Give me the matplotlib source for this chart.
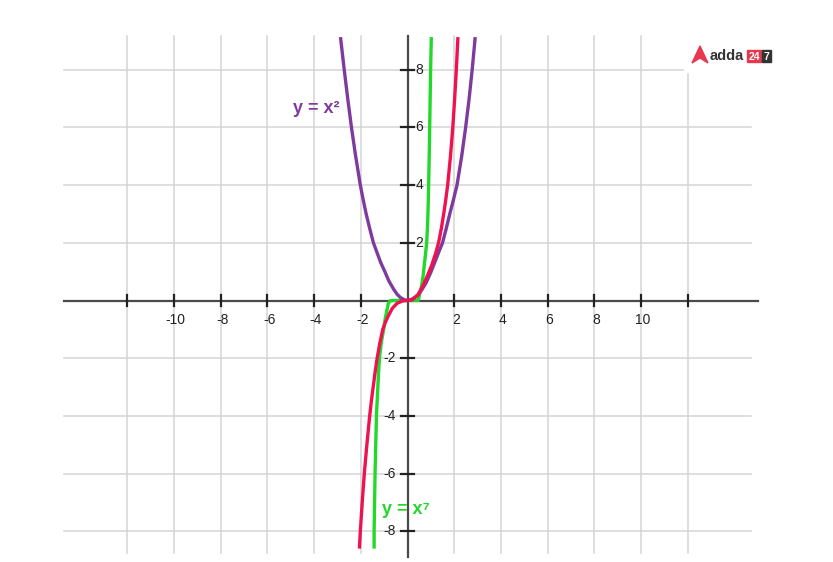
import matplotlib
matplotlib.use("Agg")
from matplotlib import pyplot as plt
from matplotlib.patches import Polygon, Rectangle

plt.rcParams['font.family'] = ['Liberation Sans', 'DejaVu Sans']

# points (x, y)
purple_x = [-2.87, -2.71, -2.56, -2.4, -2.22, -2.02, -1.9, -1.77, -1.62, -1.46,
            -1.3, -1.15, -0.97, -0.8, -0.6, -0.45, -0.3, -0.15, 0.0,
            0.15, 0.3, 0.46, 0.62, 0.8, 1.0, 1.18, 1.35, 1.5, 1.66, 1.81, 1.97,
            2.12, 2.32, 2.49, 2.64, 2.77, 2.9]
purple_y = [9.13, 8.0, 7.0, 6.0, 5.0, 4.0, 3.5, 3.0, 2.5, 2.0,
            1.65, 1.32, 1.0, 0.68, 0.4, 0.22, 0.1, 0.03, 0.0,
            0.03, 0.1, 0.2, 0.38, 0.62, 0.98, 1.35, 1.7, 2.0, 2.5, 3.0, 3.5,
            4.0, 5.0, 6.0, 7.0, 8.0, 9.13]

red_x = [-2.06, -2.02, -1.94, -1.85, -1.74, -1.62, -1.55, -1.47, -1.39, -1.3, -1.19,
         -1.06, -0.93, -0.8, -0.65, -0.45, -0.2, 0.0,
         0.2, 0.44, 0.68, 0.85, 1.04, 1.2, 1.33, 1.45, 1.55, 1.64, 1.72, 1.84,
         1.94, 2.02, 2.09, 2.16]
red_y = [-8.6, -8.0, -7.0, -6.0, -5.0, -4.0, -3.5, -3.0, -2.5, -2.0, -1.5,
         -1.0, -0.72, -0.5, -0.27, -0.1, -0.01, 0.0,
         0.02, 0.19, 0.54, 0.85, 1.23, 1.62, 2.0, 2.5, 3.0, 3.5, 4.0, 5.0,
         6.0, 7.0, 8.0, 9.13]

green_x = [-1.43, -1.43, -1.41, -1.39, -1.36, -1.33, -1.3, -1.27, -1.24, -1.2, -1.16,
           -1.1, -1.02, -0.96, -0.89, -0.82, -0.75, -0.6, 0.0, 0.45,
           0.48, 0.51, 0.56, 0.61, 0.67, 0.72, 0.77, 0.82, 0.86, 0.885, 0.905,
           0.93, 0.95, 0.97, 0.99, 1.02]
green_y = [-8.6, -8.0, -7.0, -6.0, -5.0, -4.0, -3.5, -3.0, -2.5, -2.0, -1.7,
           -1.35, -1.0, -0.65, -0.37, -0.1, -0.01, 0.0, 0.0, 0.0,
           0.06, 0.19, 0.35, 0.54, 0.85, 1.23, 1.6, 2.0, 2.6, 3.3, 4.0,
           5.0, 6.0, 7.0, 8.0, 9.13]

x_ticks = [-12, -10, -8, -6, -4, -2, 2, 4, 6, 8, 10, 12]
x_labels = ['', '-10', '-8', '-6', '-4', '-2', '2', '4', '6', '8', '10', '']
y_ticks = [-8, -6, -4, -2, 2, 4, 6, 8]
y_labels = ['-8', '-6', '-4', '-2', '2', '4', '6', '8']
grid_x = [-12, -10, -8, -6, -4, -2, 2, 4, 6, 8, 10, 12]
grid_y = [-8, -6, -4, -2, 2, 4, 6, 8]

W, H = 833, 562
X0, XU = 407.5, 23.35     # pixel of x=0, pixels per unit
Y0, YU = 300.5, 28.85     # pixel of y=0 (from top), pixels per unit

fig = plt.figure(figsize=(W / 100, H / 100), dpi=100)
ax = fig.add_axes([0, 0, 1, 1])
ax.set_xlim(-X0 / XU, (W - X0) / XU)
ax.set_ylim((Y0 - H) / YU, Y0 / YU)
ax.axis('off')

grid_c = '#d4d4d4'
for gx in grid_x:
    ax.plot([gx, gx], [-8.76, 9.18], color=grid_c, lw=1.1, zorder=1)
for gy in grid_y:
    ax.plot([-14.73, 14.69], [gy, gy], color=grid_c, lw=1.1, zorder=1)

axis_c = '#4a4a4a'
ax.plot([-14.73, 15.0], [0, 0], color=axis_c, lw=1.6, zorder=2)
ax.plot([0, 0], [-8.9, 9.18], color=axis_c, lw=1.6, zorder=2)

tx = 5.5 / YU
for t, lab in zip(x_ticks, x_labels):
    ax.plot([t, t], [-tx, tx], color='#222222', lw=1.6, zorder=2)
    if lab:
        ax.text(t + 0.08, -19 / YU, lab, ha='center', va='center', fontsize=10, color='#222222')
ty = 6.5 / XU
for t, lab in zip(y_ticks, y_labels):
    ax.plot([-ty, ty], [t, t], color='#222222', lw=1.6, zorder=2)
    if t > 0:
        ax.text(8 / XU, t, lab, ha='left', va='center', fontsize=10, color='#222222')
    else:
        ax.text(-12 / XU, t, lab, ha='right', va='center', fontsize=10, color='#222222')

ax.plot(green_x, green_y, color='#22d82a', lw=2.4, zorder=4, solid_capstyle='butt',
        solid_joinstyle='round')
ax.plot(purple_x, purple_y, color='#7e3a9c', lw=2.4, zorder=5, solid_capstyle='butt',
        solid_joinstyle='round')
ax.plot(red_x, red_y, color='#f0124f', lw=2.4, zorder=6, solid_capstyle='butt',
        solid_joinstyle='round')

ax.text(-4.92, 6.67, 'y = x²', color='#7e3a9c', fontsize=13, fontweight='bold',
        ha='left', va='center', zorder=7)
ax.text(-1.09, -7.26, 'y = x⁷', color='#22d82a', fontsize=13, fontweight='bold',
        ha='left', va='center', zorder=7)

# logo patch, pixel coordinates
def fx(p):
    return p / W


def fy(p):
    return 1 - p / H


fig.patches.append(Rectangle((fx(684), fy(72)), fx(800) - fx(684), fy(30) - fy(72),
                             transform=fig.transFigure, color='white', zorder=10))
fig.patches.append(Polygon([(fx(692), fy(63)), (fx(700), fy(46)), (fx(708), fy(63)),
                            (fx(700), fy(58))], closed=True, transform=fig.transFigure,
                           color='#e8384f', zorder=11))
fig.text(fx(710), fy(56), 'adda', fontsize=10.5, fontweight='bold', color='#333333',
         ha='left', va='center', zorder=12)
fig.patches.append(Rectangle((fx(747), fy(62)), fx(14), fy(50) - fy(62),
                             transform=fig.transFigure, color='#e8384f', zorder=11))
fig.text(fx(754), fy(56.5), '24', fontsize=7.5, fontweight='bold', color='white',
         ha='center', va='center', zorder=12)
fig.patches.append(Rectangle((fx(762), fy(62)), fx(9), fy(50) - fy(62),
                             transform=fig.transFigure, color='#333333', zorder=11))
fig.text(fx(766.5), fy(56.5), '7', fontsize=7.5, fontweight='bold', color='white',
         ha='center', va='center', zorder=12)

fig.savefig('out.png', dpi=100)
